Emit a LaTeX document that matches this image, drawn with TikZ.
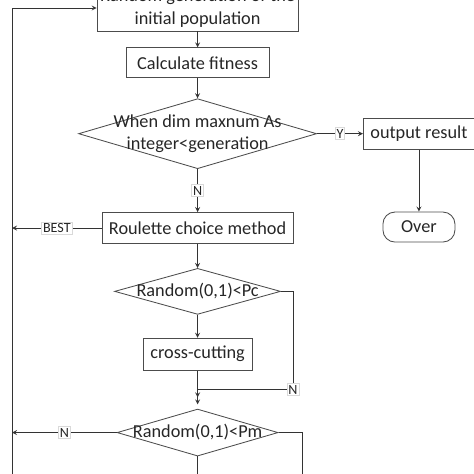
\documentclass[tikz,border=0pt]{standalone}
\usepackage{fontspec}
\setmainfont{Carlito}
\usetikzlibrary{shapes.geometric, positioning, arrows, calc}

\begin{document}
\begin{tikzpicture}[->,>=stealth, semithick, black!80, text=black!85,
    font=\fontsize{13}{16}\selectfont,
    block/.style={rectangle, draw=black!70, inner sep=1pt, align=center},
    decision/.style={diamond, draw=black!70, inner sep=0pt},
    lbl/.style={fill=white, draw=black!15, inner sep=1pt, font=\fontsize{10}{12}\selectfont}]
      \useasboundingbox (0,0) rectangle (11.85,-11.85);
      \clip (0,0) rectangle (11.85,-11.85);

      \node[block, minimum width=5.025cm, minimum height=1.15cm] (init) at (4.94,-0.2) {Random generation of the\\initial population};
      \node[block, minimum width=3.575cm, minimum height=0.75cm] (fit) [below=0.4cm of init] {Calculate fitness};
      \node[decision, minimum width=5.95cm, minimum height=1.75cm, label={[align=center]center:When dim maxnum As\\integer<generation}] (d1) [below=0.5cm of fit] {};
      \node[block, minimum width=4.775cm, minimum height=0.775cm] (roul) [below=1.075cm of d1] {Roulette choice method};
      \node[decision, minimum width=4.15cm, minimum height=1.15cm, label={center:Random(0,1)<Pc}] (d2) [below=0.6cm of roul] {};
      \node[block, minimum width=2.725cm, minimum height=0.8cm] (cross) [below=0.575cm of d2] {cross-cutting};
      \node[decision, minimum width=4.025cm, minimum height=1.175cm, label={center:Random(0,1)<Pm}] (d3) [below=0.95cm of cross] {};
      \node[block, minimum width=2.775cm, minimum height=0.775cm] (out) [right=1.15cm of d1] {output result};
      \node[block, rounded corners=0.3cm, minimum width=1.8cm, minimum height=0.75cm] (over) [below=1.55cm of out] {Over};

      \coordinate (lb) at (0.3,-13);
      \coordinate (pc) at ($(d2.east)+(0.3,0)$);
      \coordinate (mg) at ($(cross.south)!0.5!(d3.north)$);
      \coordinate (pm) at ($(d3.east)+(0.6,-2)$);
      \coordinate (yb) at ($(d3.south)+(0,-1.35)$);

      \path (init) edge (fit)
            (fit) edge (d1)
            (d1) edge node[lbl] {Y} (out)
            (d1) edge node[lbl] {N} (roul)
            (out) edge (over)
            (roul) edge (d2)
            (d2) edge (cross)
            (cross) edge [shorten >=8pt] (d3)
            (roul) edge node[lbl] {BEST} (roul.west -| lb)
            (d3) edge node[lbl] {N} (d3.west -| lb)
            ;
      \draw[shorten >=3pt] (d2.east) -- (pc) |- node[lbl] {N} (mg) -- (d3.north);
      \draw (lb) |- (init);
      \draw[-] (d3) -- node[lbl] {Y} (yb);
      \draw[-] (d3.east) -| (pm);
    \end{tikzpicture}
\end{document}
